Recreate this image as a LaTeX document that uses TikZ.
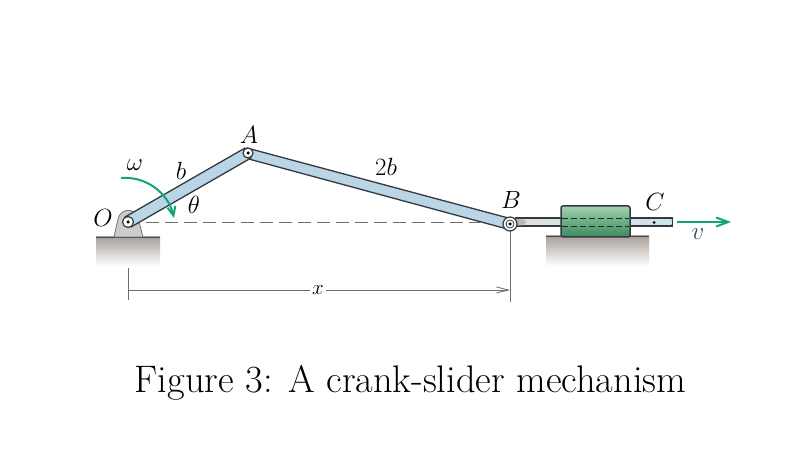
\documentclass[tikz,border=0pt]{standalone}
\usetikzlibrary{arrows.meta}
\definecolor{linkblue}{HTML}{B9D5E6}
\definecolor{linkedge}{HTML}{34393E}
\definecolor{arrowgreen}{HTML}{12A574}
\definecolor{groundtop}{HTML}{A9A09A}
\definecolor{blocktop}{HTML}{A4D2B0}
\definecolor{blockmid}{HTML}{6BAE86}
\definecolor{blockbot}{HTML}{3F8A60}
\definecolor{dimgray}{HTML}{6E6E6E}
\definecolor{vblue}{HTML}{2F4F6F}
\tikzset{
  lbl/.style={font=\fontsize{23}{27}\selectfont, text=black, inner sep=0pt},
  ground/.style={top color=groundtop, bottom color=white, draw=none},
  link/.style={fill=linkblue, draw=linkedge, line width=1.3pt, line join=round},
  pin/.style={circle, fill=white, draw=linkedge, line width=1.2pt, minimum size=11pt, inner sep=0pt},
  pindot/.style={circle, fill=black, minimum size=3.5pt, inner sep=0pt},
  dimline/.style={draw=dimgray, line width=0.8pt},
  dimtip/.style={-{Straight Barb[length=12pt,width=6pt]}},
  greenarrow/.style={draw=arrowgreen, line width=2pt, -{Straight Barb[length=9pt,width=8pt]}}
}
\begin{document}
\begin{tikzpicture}[x=1pt,y=-1pt]
\useasboundingbox[fill=white] (0,0) rectangle (800,462);
% key points
\coordinate (O) at (128,222);
\coordinate (A) at (248,153);
\coordinate (B) at (510,224);
\coordinate (xs) at (128,290);
\coordinate (xe) at (510,290);
% ground
\fill[ground] (96,237) rectangle (160,266);
\fill[ground] (546,236) rectangle (649,266);
\draw[dimgray!70!black, line width=0.8pt] (96,237) -- (160,237);
\draw[dimgray!70!black, line width=0.8pt] (546,236) -- (649,236);
% dashed reference
\coordinate (ds) at (146,222);
\coordinate (de) at (480,222);
\draw[dimgray, line width=0.9pt, dash pattern=on 13pt off 6pt] (ds) -- (de);
% support
\draw[fill=black!20, draw=black!55, line width=0.8pt] (114,237) -- (118,219) arc[start angle=190,end angle=330,radius=10.5] -- (143,237) -- cycle;
% dimension
\draw[dimline] (128,268) -- (128,300);
\draw[dimline] (B) -- (510,302);
\node[lbl, font=\fontsize{21}{25}\selectfont] (xl) at (318,290) {$x$};
\draw[dimline] (xs) -- ([xshift=-2pt]xl.west);
\draw[dimline,dimtip] ([xshift=2pt]xl.east) -- (xe);
% rod
\fill[linkedge] (515,217.5) rectangle (673,227);
\fill[left color=black!12, right color=linkblue!70!white] (516,220) rectangle (671.5,224.7);
\fill[black!28] (513,219) -- (522,219) -- (527,222) -- (522,225.5) -- (513,225.5) -- cycle;
% slider
\draw[draw=linkedge, line width=1.5pt, top color=blocktop, bottom color=blockbot, middle color=blockmid, rounded corners=2pt] (561,206) rectangle (630,237);
\draw[black!85, line width=0.9pt, dash pattern=on 6pt off 3pt] (562,218) -- (629,218);
\draw[black!85, line width=0.9pt, dash pattern=on 6pt off 3pt] (562,226) -- (629,226);
\node[pindot, minimum size=3pt] (cdot) at (654,222.5) {};
% connecting rod
\draw[link] (247,148) -- (512,219) -- (509,229.5) -- (245,158) -- cycle;
% crank
\draw[link] (245,148) -- (125,217) -- (131,227) -- (251,158) -- cycle;
% pins
\node[pin] (pO) at (O) {};
\node[pindot] at (O) {};
\node[pin, minimum size=10pt] (pA) at (A) {};
\node[pindot] at (A) {};
\node[pin, minimum size=14pt] (pB) at (B) {};
\node[circle, draw=linkedge, line width=0.8pt, minimum size=8pt, inner sep=0pt] at (B) {};
\node[pindot] at (B) {};
% green arrows
\coordinate (wa) at (121,178);
\coordinate (wb) at (174,218);
\draw[greenarrow] (wa) .. controls (145,176) and (168,192) .. (wb);
\coordinate (va) at (677,222);
\coordinate (vb) at (731,222);
\draw[greenarrow, -{Straight Barb[length=12pt,width=9pt]}] (va) -- (vb);
% labels
\node[lbl] (lO) at (103,218) {$O$};
\node[lbl] (lA) at (249,135) {$A$};
\node[lbl] (lB) at (511,200) {$B$};
\node[lbl] (lC) at (655,202) {$C$};
\node[lbl] (lw) at (135,165) {$\omega$};
\node[lbl] (lb) at (181,171) {$b$};
\node[lbl] (lt) at (194,205) {$\theta$};
\node[lbl] (l2b) at (386,167) {$2b$};
\node[lbl, text=vblue] (lv) at (698,234) {$v$};
\node[inner sep=0pt, font=\fontsize{38.4}{46}\selectfont] (cap) at (410.5,383) {Figure 3: A crank-slider mechanism};
\end{tikzpicture}
\end{document}
